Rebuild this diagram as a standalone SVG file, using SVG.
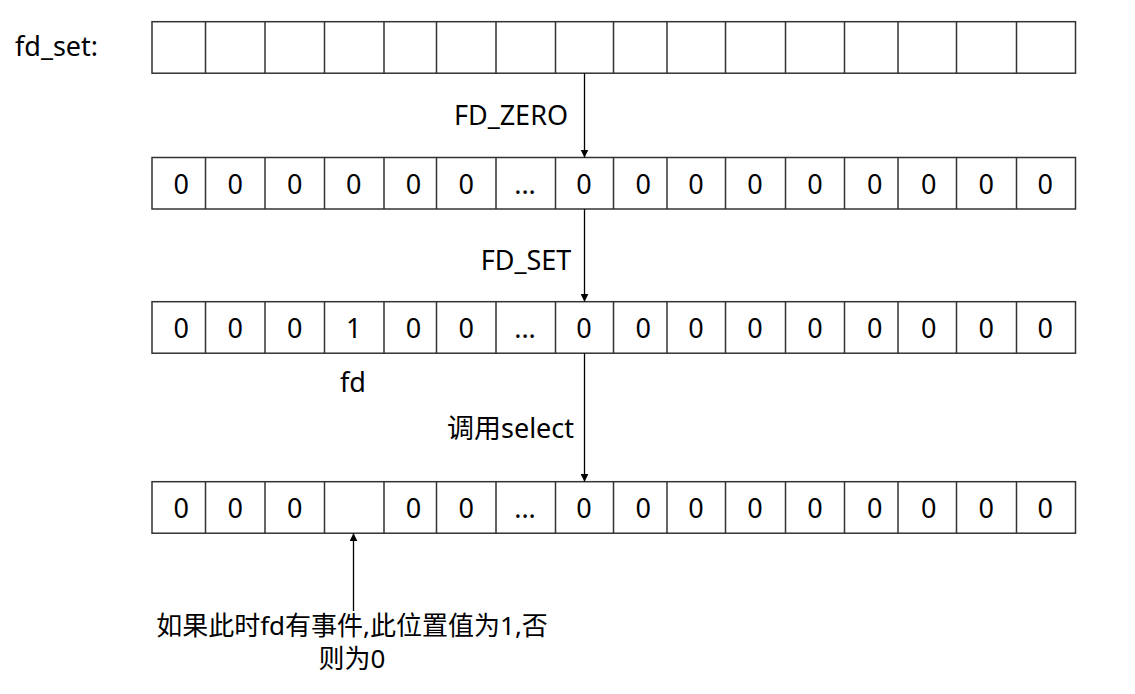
<svg xmlns="http://www.w3.org/2000/svg" width="1135" height="694" viewBox="0 0 1135 694">
<style>
.cell{fill:#fff;stroke:#333;stroke-width:1.5}
.div{stroke:#333;stroke-width:1.5}
text{font-family:"Noto Sans","Noto Sans CJK SC",sans-serif;font-size:27px;fill:#000}
.v{text-anchor:middle}
.note{font-size:26px}
.con{stroke:#000;stroke-width:1.3;fill:none}
</style>
<defs>
<marker id="ah" viewBox="0 0 10 10" refX="10" refY="5" markerWidth="8" markerHeight="8" markerUnits="userSpaceOnUse" orient="auto">
<path d="M0,0 L10,5 L0,10 z" fill="#000"/>
</marker>
<g id="divs">
<path class="div" d="M205.5,0V51.5M265,0V51.5M324.5,0V51.5M384,0V51.5M436.5,0V51.5M496,0V51.5M555.5,0V51.5M613.5,0V51.5M667,0V51.5M725.5,0V51.5M785.5,0V51.5M844.5,0V51.5M898,0V51.5M956.5,0V51.5M1016.5,0V51.5"/>
</g>
</defs>
<text x="15" y="56">fd_set:</text>
<g id="row1" transform="translate(0,21.7)">
<rect class="cell" x="152" y="0" width="923.5" height="51.5"/>
<use href="#divs"/>
</g>
<g id="row2" transform="translate(0,157.5)">
<rect class="cell" x="152" y="0" width="923.5" height="51.5"/>
<use href="#divs"/>
<g class="v">
<text x="181.3" y="36.5">0</text><text x="235.3" y="36.5">0</text><text x="294.7" y="36.5">0</text><text x="353.7" y="36.5">0</text><text x="413.5" y="36.5">0</text><text x="466.3" y="36.5">0</text><text x="525" y="36.5">...</text><text x="584" y="36.5">0</text><text x="643.3" y="36.5">0</text><text x="696" y="36.5">0</text><text x="755" y="36.5">0</text><text x="815" y="36.5">0</text><text x="874.7" y="36.5">0</text><text x="928.7" y="36.5">0</text><text x="986.3" y="36.5">0</text><text x="1045.3" y="36.5">0</text>
</g>
</g>
<g id="row3" transform="translate(0,301.7)">
<rect class="cell" x="152" y="0" width="923.5" height="51.5"/>
<use href="#divs"/>
<g class="v">
<text x="181.3" y="36.5">0</text><text x="235.3" y="36.5">0</text><text x="294.7" y="36.5">0</text><text x="353.7" y="36.5">1</text><text x="413.5" y="36.5">0</text><text x="466.3" y="36.5">0</text><text x="525" y="36.5">...</text><text x="584" y="36.5">0</text><text x="643.3" y="36.5">0</text><text x="696" y="36.5">0</text><text x="755" y="36.5">0</text><text x="815" y="36.5">0</text><text x="874.7" y="36.5">0</text><text x="928.7" y="36.5">0</text><text x="986.3" y="36.5">0</text><text x="1045.3" y="36.5">0</text>
</g>
</g>
<g id="row4" transform="translate(0,481.7)">
<rect class="cell" x="152" y="0" width="923.5" height="51.5"/>
<use href="#divs"/>
<g class="v">
<text x="181.3" y="36.5">0</text><text x="235.3" y="36.5">0</text><text x="294.7" y="36.5">0</text><text x="413.5" y="36.5">0</text><text x="466.3" y="36.5">0</text><text x="525" y="36.5">...</text><text x="584" y="36.5">0</text><text x="643.3" y="36.5">0</text><text x="696" y="36.5">0</text><text x="755" y="36.5">0</text><text x="815" y="36.5">0</text><text x="874.7" y="36.5">0</text><text x="928.7" y="36.5">0</text><text x="986.3" y="36.5">0</text><text x="1045.3" y="36.5">0</text>
</g>
</g>
<g id="connectors">
<line class="con" x1="584.5" y1="73.2" x2="584.5" y2="157.5" marker-end="url(#ah)"/>
<line class="con" x1="584.5" y1="209" x2="584.5" y2="301.7" marker-end="url(#ah)"/>
<line class="con" x1="584.5" y1="353.2" x2="584.5" y2="481.7" marker-end="url(#ah)"/>
<line class="con" x1="353.5" y1="611" x2="353.5" y2="533.2" marker-end="url(#ah)"/>
</g>
<g id="labels" class="v">
<text x="511" y="125">FD_ZERO</text>
<text x="526" y="270">FD_SET</text>
<text x="353" y="392">fd</text>
<text x="510.5" y="438">调用select</text>
<text class="note" x="352" y="635">如果此时fd有事件,此位置值为1,否</text>
<text class="note" x="352" y="668">则为0</text>
</g>
</svg>
